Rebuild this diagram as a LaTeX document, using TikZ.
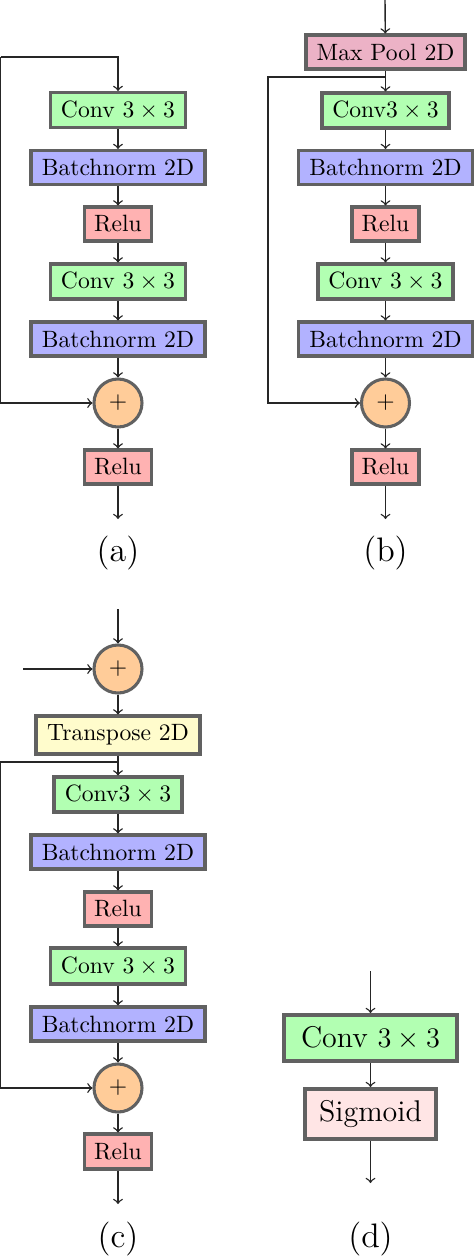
\documentclass[tikz,border=0pt]{standalone}
\begin{document}
\begin{tikzpicture}[x=0.4237pt,y=-0.4237pt,
  blk/.style={draw=black!62,line width=1.3pt,inner sep=0pt,align=center,font=\normalsize},
  conv/.style={blk,fill=green!30},
  bnorm/.style={blk,fill=blue!30,minimum width=174*0.4237pt,minimum height=34*0.4237pt},
  relu/.style={blk,fill=red!30,minimum width=67*0.4237pt,minimum height=34*0.4237pt},
  plus/.style={circle,draw=black!62,line width=1.3pt,fill=orange!40,inner sep=0pt,minimum size=48*0.4237pt},
  arr/.style={->,black!85,line width=0.6pt},
  lab/.style={font=\Large}]
\useasboundingbox (0,0) rectangle (474,1256);
% ---------- (a)
\coordinate (sa) at (0.6,57);
\coordinate (ina) at (118,57);
\node[conv,minimum width=135*0.4237pt,minimum height=35*0.4237pt] (c1a) at (118,110) {Conv $3\times3$};
\node[bnorm] (b1a) at (118,167.5) {Batchnorm 2D};
\node[relu] (r1a) at (118,224) {Relu};
\node[conv,minimum width=135*0.4237pt,minimum height=35*0.4237pt] (c2a) at (118,281.5) {Conv $3\times3$};
\node[bnorm] (b2a) at (118,339) {Batchnorm 2D};
\node[plus] (pa) at (118,403) {$+$};
\node[relu] (r2a) at (118,467) {Relu};
\coordinate (oa) at (118,519);
\node[lab] (la) at (118,553) {(a)};
\draw[arr] (sa) -- (ina) -- (c1a);
\draw[arr] (sa) |- (pa.west);
\draw[arr] (c1a) -- (b1a);
\draw[arr] (b1a) -- (r1a);
\draw[arr] (r1a) -- (c2a);
\draw[arr] (c2a) -- (b2a);
\draw[arr] (b2a) -- (pa);
\draw[arr] (pa) -- (r2a);
\draw[arr] (r2a) -- (oa);
% ---------- (b)
\coordinate (inb) at (385,0);
\node[blk,fill=purple!30,minimum width=159*0.4237pt,minimum height=34*0.4237pt] (mp) at (385.5,52) {Max Pool 2D};
\coordinate (brb) at (385.5,77);
\coordinate (sb) at (268,77);
\node[conv,minimum width=127*0.4237pt,minimum height=35*0.4237pt] (c1b) at (385.5,110.5) {Conv$3\times3$};
\node[bnorm] (b1b) at (385.5,167.5) {Batchnorm 2D};
\node[relu] (r1b) at (385.5,224) {Relu};
\node[conv,minimum width=135*0.4237pt,minimum height=35*0.4237pt] (c2b) at (385.5,281.5) {Conv $3\times3$};
\node[bnorm] (b2b) at (385.5,339) {Batchnorm 2D};
\node[plus] (pb) at (385.5,403) {$+$};
\node[relu] (r2b) at (385.5,467) {Relu};
\coordinate (ob) at (385.5,519);
\node[lab] (lb) at (385.5,553) {(b)};
\draw[arr] (inb) -- (mp);
\draw[arr] (mp) -- (c1b);
\draw[arr] (brb) -- (sb) |- (pb.west);
\draw[arr] (c1b) -- (b1b);
\draw[arr] (b1b) -- (r1b);
\draw[arr] (r1b) -- (c2b);
\draw[arr] (c2b) -- (b2b);
\draw[arr] (b2b) -- (pb);
\draw[arr] (pb) -- (r2b);
\draw[arr] (r2b) -- (ob);
% ---------- (c)
\coordinate (inc) at (118,609);
\coordinate (lc) at (23,669);
\node[plus] (p1c) at (118,669) {$+$};
\node[blk,fill=yellow!20,minimum width=164*0.4237pt,minimum height=38*0.4237pt] (tr) at (118,735) {Transpose 2D};
\coordinate (brc) at (118,762);
\coordinate (sc) at (0.6,762);
\node[conv,minimum width=128*0.4237pt,minimum height=35*0.4237pt] (c1c) at (118,794.5) {Conv$3\times3$};
\node[bnorm] (b1c) at (118,852) {Batchnorm 2D};
\node[relu] (r1c) at (118,909) {Relu};
\node[conv,minimum width=135*0.4237pt,minimum height=36*0.4237pt] (c2c) at (118,966) {Conv $3\times3$};
\node[bnorm] (b2c) at (118,1024) {Batchnorm 2D};
\node[plus] (p2c) at (118,1088) {$+$};
\node[relu,minimum height=35*0.4237pt] (r2c) at (118,1151.5) {Relu};
\coordinate (oc) at (118,1204);
\node[lab] (lcl) at (118,1239) {(c)};
\draw[arr] (inc) -- (p1c);
\draw[arr] (lc) -- (p1c.west);
\draw[arr] (p1c) -- (tr);
\draw[arr] (tr) -- (c1c);
\draw[arr] (brc) -- (sc) |- (p2c.west);
\draw[arr] (c1c) -- (b1c);
\draw[arr] (b1c) -- (r1c);
\draw[arr] (r1c) -- (c2c);
\draw[arr] (c2c) -- (b2c);
\draw[arr] (b2c) -- (p2c);
\draw[arr] (p2c) -- (r2c);
\draw[arr] (r2c) -- (oc);
% ---------- (d)
\coordinate (ind) at (370.5,971);
\node[blk,fill=green!30,line width=1.7pt,font=\fontsize{12.7}{15}\selectfont,minimum width=173*0.4237pt,minimum height=46*0.4237pt] (cd) at (370.5,1038) {Conv $3\times3$};
\node[blk,fill=red!10,line width=1.7pt,font=\fontsize{12.7}{15}\selectfont,minimum width=131*0.4237pt,minimum height=50*0.4237pt] (sd) at (370.5,1114) {Sigmoid};
\coordinate (od) at (370.5,1183);
\node[lab] (ld) at (370.5,1239) {(d)};
\draw[arr] (ind) -- (cd);
\draw[arr] (cd) -- (sd);
\draw[arr] (sd) -- (od);
\end{tikzpicture}
\end{document}
